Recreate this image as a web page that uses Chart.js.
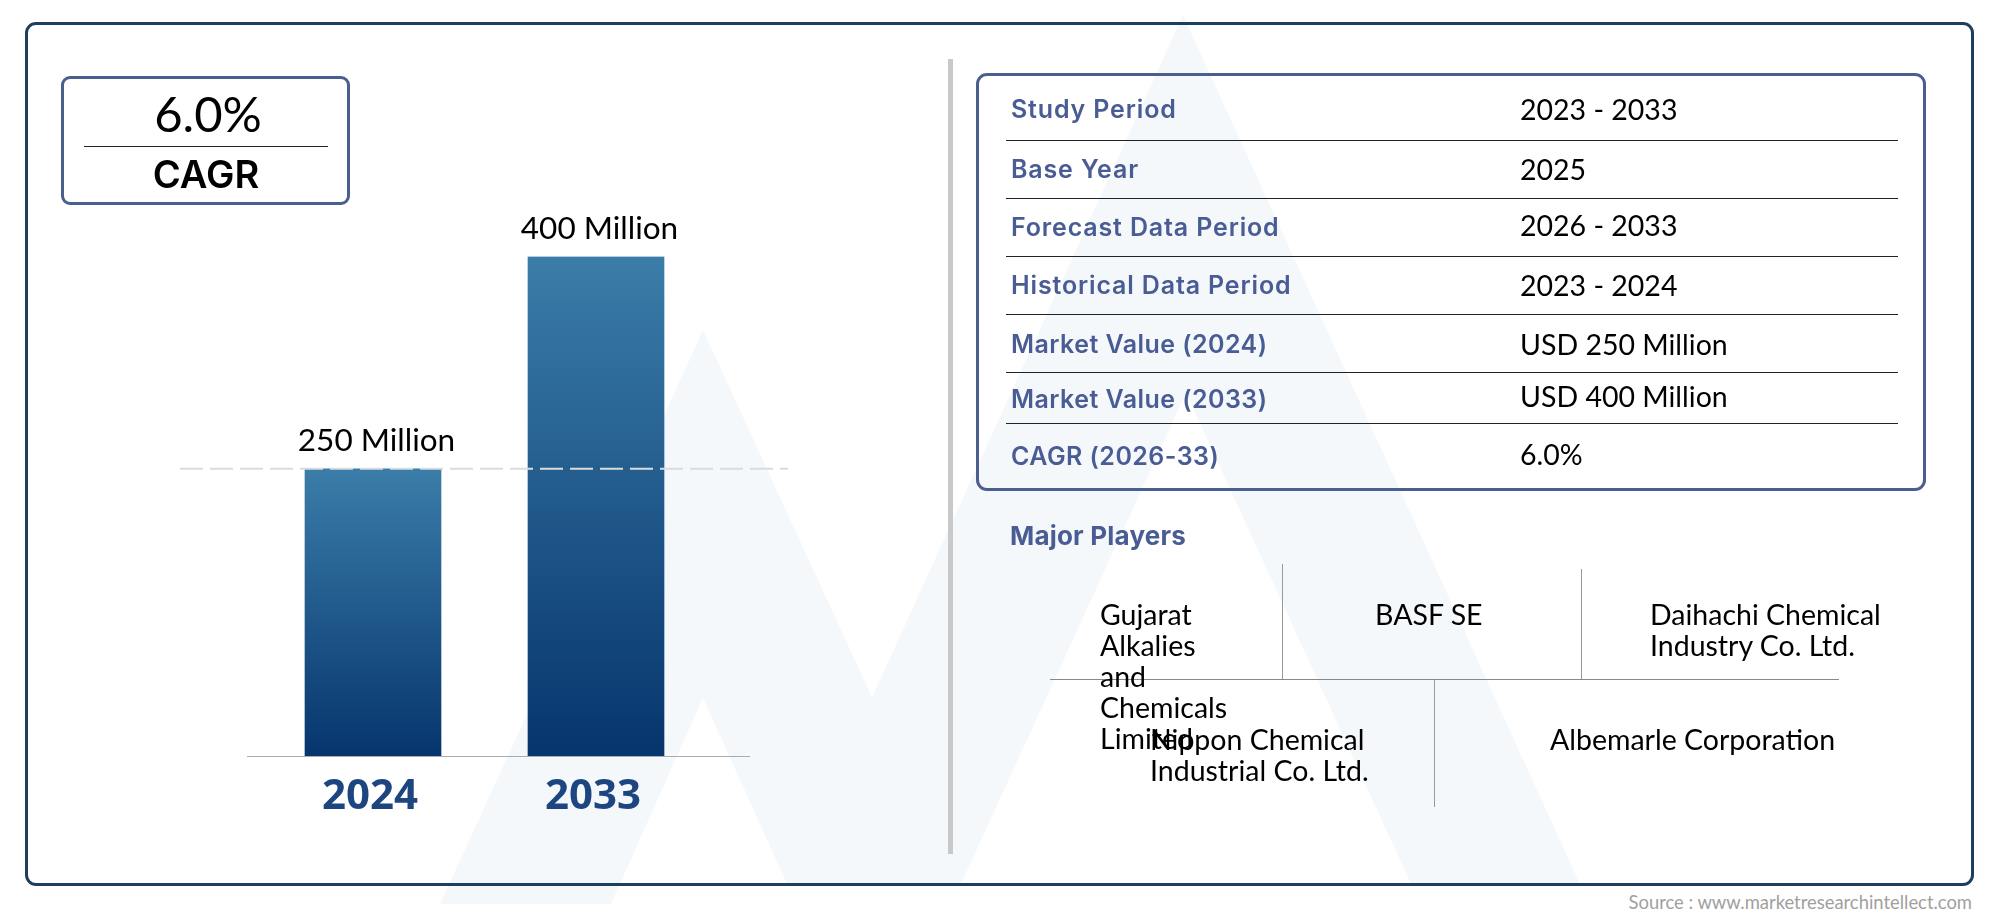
<!DOCTYPE html>
<html>
<head>
<meta charset="utf-8">
<title>Market size chart</title>
<script src="https://cdn.jsdelivr.net/npm/chart.js@4"></script>
<style>
  html, body { margin: 0; padding: 0; background: #fff; width: 2000px; height: 917px; overflow: hidden; }
  .abs { position: absolute; white-space: nowrap; }
  .frame { position: absolute; box-sizing: border-box; background: transparent; }
  .val { font-family: Lato, sans-serif; color: #000; font-size: 28.5px; line-height: 31px; transform: translateY(-16.5px); }
  .lbl { font-family: Inter, sans-serif; font-weight: 600; color: #4a5c94; font-size: 25px; letter-spacing: 0.85px; line-height: 30px; transform: translateY(-14px); }
  #watermark { position: absolute; left: 0; top: 0; }
  #chart { position: absolute; left: 0; top: 0; }
</style>
</head>
<body>
<svg id="watermark" width="2000" height="917">
  <polygon fill="#f5f8fb" points="703,330 440,904 611,904 703,698 787,884 958,884"/>
  <polygon fill="#f5f8fb" points="1183,15 787,884 961,884 1186,393 1411,884 1580,884"/>
</svg>
<canvas id="chart" width="945" height="917"></canvas>
<div id="page"></div>

<script>
// Chart data
var categories = ['2024', '2033'];
var marketValues = [250, 400];
var axisMin = 47;

// Summary table
var rowLabels = ['Study Period', 'Base Year', 'Forecast Data Period', 'Historical Data Period', 'Market Value (2024)', 'Market Value (2033)', 'CAGR (2026-33)'];
var rowValues = ['2023 - 2033', '2025', '2026 - 2033', '2023 - 2024', 'USD 250 Million', 'USD 400 Million', '6.0%'];
var labelY = [108, 168, 226, 284, 343, 398, 455];
var valueY = [110, 170, 226, 286, 345, 397, 455];
var ruleY = [140, 198, 256, 314, 372, 423];

var page = document.getElementById('page');

function box(x, y, w, h, css) {
  var el = document.createElement('div');
  el.className = 'frame';
  el.style.cssText = 'left:' + x + 'px;top:' + y + 'px;width:' + w + 'px;height:' + h + 'px;' + css;
  page.appendChild(el);
}

function text(str, x, y, cls, css) {
  var el = document.createElement('div');
  el.className = 'abs ' + cls;
  el.style.left = x + 'px';
  el.style.top = y + 'px';
  if (css) el.style.cssText += css;
  el.innerHTML = str;
  page.appendChild(el);
}

// Frames and separators
box(25, 22, 1949, 864, 'border:3px solid #1b3f5c;border-radius:11px;');
box(61, 76, 289, 129, 'border:3px solid #4a5f8e;border-radius:9px;');
box(976, 73, 950, 418, 'border:3px solid #4a5f8e;border-radius:11px;');
box(948, 59, 5, 795, 'background:#c9c9c9;');

// CAGR box
text('6.0%', 208, 113, 'val', 'font-size:49px;transform:translate(-50%,-50%);line-height:60px;');
box(84, 146, 244, 1, 'background:#222;');
text('CAGR', 206, 174, 'lbl', 'color:#000;font-size:38px;font-weight:600;letter-spacing:0;transform:translate(-50%,-50%);line-height:40px;');

// Summary rows, labels with digits run a bit tighter
rowLabels.forEach(function(label, i) {
  text(label, 1011, labelY[i], 'lbl', label.indexOf('(') > -1 ? 'letter-spacing:0.45px;' : '');
  text(rowValues[i], 1520, valueY[i], 'val');
});
ruleY.forEach(function(y) {
  box(1006, y, 892, 1.4, 'background:#222;');
});

// Major players
text('Major Players', 1010, 536, 'lbl', 'font-weight:700;font-size:26px;letter-spacing:0.2px;transform:translateY(-15px);');
box(1050, 679, 789, 1.4, 'background:#888;');
box(1282, 564, 1, 115, 'background:#999;');
box(1581, 569, 1, 110, 'background:#999;');
box(1434, 680, 1, 127, 'background:#999;');
text('Gujarat<br>Alkalies<br>and<br>Chemicals<br>Limited', 1100, 615, 'val');
text('BASF SE', 1375, 615, 'val');
text('Daihachi Chemical<br>Industry Co. Ltd.', 1650, 615, 'val');
text('Nippon Chemical<br>Industrial Co. Ltd.', 1150, 740, 'val');
text('Albemarle Corporation', 1550, 740, 'val');

text('Source : www.marketresearchintellect.com', 1972, 902, 'val', 'left:auto;right:28px;color:#a0a0a0;font-size:18.4px;line-height:20px;transform:translateY(-10px);');

// Baseline, reference line and value labels
var overlayPlugin = {
  id: 'overlay',
  afterDatasetsDraw: function(chart) {
    var ctx = chart.ctx;
    var yScale = chart.scales.y;
    var baseY = yScale.getPixelForValue(axisMin);
    var refY = yScale.getPixelForValue(marketValues[0]);

    ctx.save();
    ctx.strokeStyle = '#a9adb2';
    ctx.lineWidth = 1;
    ctx.beginPath();
    ctx.moveTo(247, baseY + 0.5);
    ctx.lineTo(750, baseY + 0.5);
    ctx.stroke();

    ctx.strokeStyle = '#d9dcdf';
    ctx.lineWidth = 2;
    ctx.setLineDash([23, 7]);
    ctx.beginPath();
    ctx.moveTo(180, refY);
    ctx.lineTo(788, refY);
    ctx.stroke();
    ctx.setLineDash([]);

    ctx.fillStyle = '#000';
    ctx.font = '31.5px Lato, sans-serif';
    ctx.textAlign = 'center';
    ctx.textBaseline = 'middle';
    chart.getDatasetMeta(0).data.forEach(function(bar, i) {
      ctx.fillText(marketValues[i] + ' Million', bar.x + 3.5, bar.y - 27.5);
    });
    ctx.restore();
  }
};

// Each bar gets its own top to bottom gradient
function barGradient(context) {
  var chart = context.chart;
  if (!chart.chartArea || context.dataIndex === undefined) return '#1c5a8e';
  var yScale = chart.scales.y;
  var g = chart.ctx.createLinearGradient(0, yScale.getPixelForValue(marketValues[context.dataIndex]), 0, yScale.getPixelForValue(axisMin));
  g.addColorStop(0, '#3b7da9');
  g.addColorStop(1, '#06356d');
  return g;
}

new Chart(document.getElementById('chart').getContext('2d'), {
  type: 'bar',
  data: {
    labels: categories,
    datasets: [{
      data: marketValues,
      backgroundColor: barGradient,
      barThickness: 136,
      borderWidth: 0
    }]
  },
  options: {
    responsive: false,
    animation: false,
    devicePixelRatio: 1,
    layout: { padding: { left: 261.5, right: 237.5, top: 256.5, bottom: 91 } },
    plugins: { legend: { display: false }, tooltip: { enabled: false } },
    scales: {
      x: {
        grid: { display: false },
        border: { display: false },
        afterFit: function(scale) { scale.height = 70; },
        ticks: {
          color: '#1d457f',
          padding: 8,
          labelOffset: -3,
          maxRotation: 0,
          font: { family: '"Open Sans", sans-serif', size: 42, weight: '700' }
        }
      },
      y: { display: false, min: axisMin, max: 400 }
    }
  },
  plugins: [overlayPlugin]
});
</script>
</body>
</html>
